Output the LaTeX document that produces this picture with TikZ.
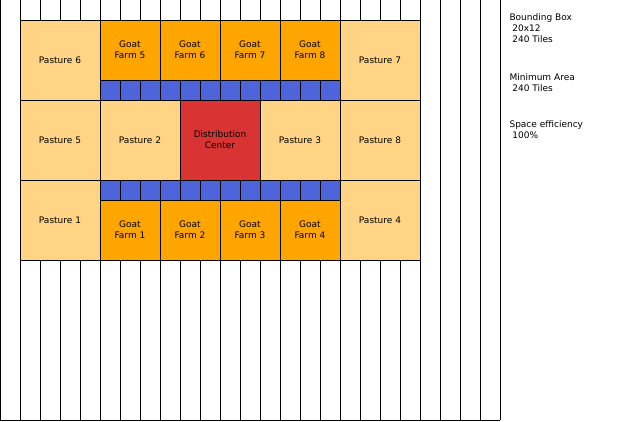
\documentclass[tikz,border=0pt]{standalone}
\usepackage{fontspec}
\setmainfont{DejaVu Sans}
\begin{document}
\begin{tikzpicture}[x=1pt,y=-1pt,
  past/.style={draw=black,fill=pastc,line width=0.5pt,align=center,font=\fontsize{9}{11}\selectfont},
  goat/.style={draw=black,fill=goatc,line width=0.5pt,align=center,font=\fontsize{9}{11}\selectfont},
  road/.style={draw=black,fill=roadc,line width=0.5pt},
  info/.style={anchor=north west,align=left,font=\fontsize{9}{11}\selectfont}]
\definecolor{pastc}{HTML}{FFD485}
\definecolor{goatc}{HTML}{FFA500}
\definecolor{distc}{HTML}{D93333}
\definecolor{roadc}{HTML}{4D64DB}
\useasboundingbox[fill=white] (0,0) rectangle (620,421);
\draw[line width=0.5pt] (0,0) grid[step=20] (500,420);
\draw[line width=0.5pt] (0,420) -- (500,420);
% pastures
\node[past,minimum width=80,minimum height=80] (p6) at (60,60) {Pasture 6};
\node[past,minimum width=80,minimum height=80] (p7) at (380,60) {Pasture 7};
\node[past,minimum width=80,minimum height=80] (p5) at (60,140) {Pasture 5};
\node[past,minimum width=80,minimum height=80] (p2) at (140,140) {Pasture 2};
\node[draw=black,fill=distc,minimum width=80,minimum height=80,align=center,font=\fontsize{9}{11}\selectfont] (dc) at (220,140) {Distribution\\Center};
\node[past,minimum width=80,minimum height=80] (p3) at (300,140) {Pasture 3};
\node[past,minimum width=80,minimum height=80] (p8) at (380,140) {Pasture 8};
\node[past,minimum width=80,minimum height=80] (p1) at (60,220) {Pasture 1};
\node[past,minimum width=80,minimum height=80] (p4) at (380,220) {Pasture 4};
% goat farms
\node[goat,minimum width=60,minimum height=60] (g5) at (130,50) {Goat\\Farm 5};
\node[goat,minimum width=60,minimum height=60] (g6) at (190,50) {Goat\\Farm 6};
\node[goat,minimum width=60,minimum height=60] (g7) at (250,50) {Goat\\Farm 7};
\node[goat,minimum width=60,minimum height=60] (g8) at (310,50) {Goat\\Farm 8};
\node[goat,minimum width=60,minimum height=60] (g1) at (130,230) {Goat\\Farm 1};
\node[goat,minimum width=60,minimum height=60] (g2) at (190,230) {Goat\\Farm 2};
\node[goat,minimum width=60,minimum height=60] (g3) at (250,230) {Goat\\Farm 3};
\node[goat,minimum width=60,minimum height=60] (g4) at (310,230) {Goat\\Farm 4};
% roads
\foreach \i in {0,...,11}{
  \draw[road] (100+\i*20,80) rectangle ++(20,20);
  \draw[road] (100+\i*20,180) rectangle ++(20,20);
}
\node[info] (i1) at (506,10) {Bounding Box\\\ 20x12\\\ 240 Tiles};
\node[info] (i2) at (506,70) {Minimum Area\\\ 240 Tiles};
\node[info] (i3) at (506,117) {Space efficiency\\\ 100\%};
\end{tikzpicture}
\end{document}
